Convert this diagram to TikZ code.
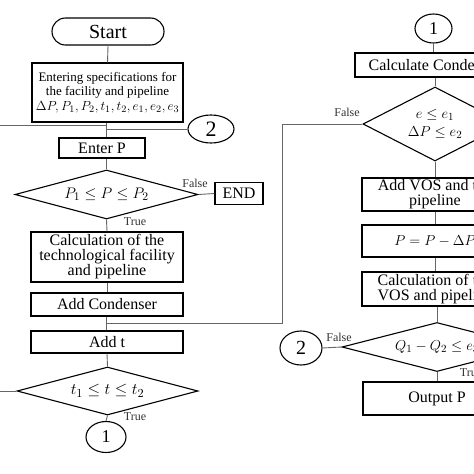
\documentclass[tikz,border=0pt]{standalone}
\usepackage{graphicx}
\usepackage{fontspec}
\setmainfont{Liberation Serif}
\usetikzlibrary{shapes.geometric}
\begin{document}
\begin{tikzpicture}[x=1pt,y=-1pt,
  conn/.style={draw=black!60, line width=0.9pt},
  box/.style n args={2}{draw=black, line width=1.1pt, rectangle, minimum width=#1pt, minimum height=#2pt, inner sep=0pt, align=center, font=\fontsize{16}{15}\selectfont},
  dia/.style n args={3}{draw=black, line width=1.1pt, diamond, aspect=#3, minimum width=#1pt, minimum height=#2pt, inner sep=0pt, align=center, font=\fontsize{15}{18}\selectfont},
  conx/.style n args={3}{draw=black, line width=1.1pt, ellipse, minimum width=#1pt, minimum height=#2pt, inner sep=0pt, font=\fontsize{#3}{#3}\selectfont},
  lbl/.style={font=\fontsize{12}{12}\selectfont, text=black!80, inner sep=0pt}]
\useasboundingbox (0,0) rectangle (474,474);
\clip (0,0) rectangle (474,474);
\fill[white] (0,0) rectangle (474,474);

% left column
\node[box={112}{27}, rounded corners=13.5pt, font=\fontsize{20}{20}\selectfont] (start) at (108,31.5) {Start};
\node[box={151}{59}, font=\fontsize{13}{14.5}\selectfont] (spec) at (107.5,92.5) {Entering specifications for\\the facility and pipeline\\\scalebox{1.1}{$\Delta P, P_1, P_2, t_1, t_2, e_1, e_2, e_3$}};
\node[box={86}{20}] (enterp) at (102,148) {Enter P};
\node[dia={183}{49}{3.735}] (d1) at (106.5,194.5) {\scalebox{1.06}{$P_1 \le P \le P_2$}};
\node[box={48}{22}] (endn) at (239,193.5) {END};
\node[box={152}{50}] (calc) at (107,257) {Calculation of the\\technological facility\\and pipeline};
\node[box={152}{23}] (addc) at (107,304.5) {Add Condenser};
\node[box={152}{22}] (addt) at (107,342) {Add t};
\node[dia={181}{48}{3.771}] (d2) at (107.5,391) {\scalebox{1.12}{$t_1 \le t \le t_2$}};
\node[conx={40}{31}{18}] (c1) at (106,437) {1};
\node[conx={46}{28}{22}] (c2) at (211,129) {2};

% right column
\node[conx={37}{29}{18}] (c1r) at (433.5,28.5) {1};
\node[box={160}{24}] (calccond) at (435,65) {Calculate Condenser};
\node[dia={144}{74}{1.946}] (d3) at (435,124) {$e \le e_1$\\$\Delta P \le e_2$};
\node[box={146}{33}] (addvos) at (435,194.5) {Add VOS and the\\pipeline};
\node[box={146}{32}, font=\fontsize{15}{15}\selectfont] (pp) at (435,241) {$P = P - \Delta P$};
\node[box={146}{34}] (calcvos) at (435,289) {Calculation of the\\VOS and pipeline};
\node[dia={190}{49}{3.878}] (d4) at (437,347) {$Q_1 - Q_2 \le e_3$};
\node[conx={42}{34}{20}] (c2r) at (301,348) {2};
\node[box={148}{33}] (outp) at (437,398.5) {Output P};

% labels
\node[lbl] (lf1) at (195,183) {False};
\node[lbl] (lt1) at (135,222) {True};
\node[lbl] (lt2) at (135,417) {True};
\node[lbl] (lf3) at (347,112) {False};
\node[lbl] (lf4) at (339,337) {False};
\node[lbl] (lt4) at (471,373) {True};

% helper coordinates
\coordinate (ja) at (106,125);
\coordinate (jb) at (106,323);
\coordinate (lft) at (-20,0);
\coordinate (rx) at (282,0);

% connectors
\draw[conn] (start.south) -- (spec.north);
\draw[conn] (spec.south -| ja) -- (ja |- enterp.north);
\draw[conn] (c2.west) -- (c2.west -| ja);
\draw[conn] (d2.west) -- (d2.west -| lft) |- (ja);
\draw[conn] (enterp.south -| ja) -- (d1.north -| ja);
\draw[conn] (d1.east) -- (endn.west);
\draw[conn] (d1.south) -- (calc.north);
\draw[conn] (calc.south) -- (addc.north);
\draw[conn] (addc.south -| jb) -- (addt.north -| jb);
\draw[conn] (addt.south) -- (d2.north);
\draw[conn] (d2.south) -- (c1.north);
\draw[conn] (d3.west) -| (rx |- jb) -- (jb);

\draw[conn] (c1r.south) -- (calccond.north -| c1r);
\draw[conn] (calccond.south) -- (d3.north);
\draw[conn] (d3.south) -- (addvos.north);
\draw[conn] (addvos.south) -- (pp.north);
\draw[conn] (pp.south) -- (calcvos.north);
\draw[conn] (calcvos.south -| d4) -- (d4.north);
\draw[conn] (d4.south) -- (outp.north);
\draw[conn] (c2r.east) -- (d4.west);
\end{tikzpicture}
\end{document}
